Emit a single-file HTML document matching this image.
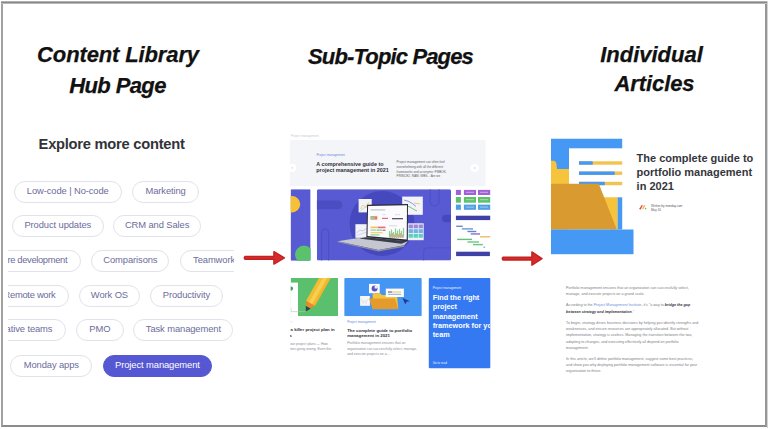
<!DOCTYPE html>
<html><head><meta charset="utf-8">
<style>
html,body{margin:0;padding:0;background:#fff;}
body{width:768px;height:429px;position:relative;overflow:hidden;font-family:"Liberation Sans",sans-serif;}
.a{position:absolute;}
.frame{position:absolute;left:1px;top:1px;width:762px;height:422px;border:2px solid #8c8c8c;border-left-color:#a2a2a2;border-right-color:#979797;border-top:none;height:424px;}
.ftop{position:absolute;left:1px;top:1px;width:766px;height:3px;background:linear-gradient(#b2b2b2 0,#b2b2b2 1px,#888 1px,#888 2px,#b8b8b8 2px);}
.h{position:absolute;font-weight:bold;font-style:italic;font-size:22px;line-height:20px;color:#111;-webkit-text-stroke:0.25px #111;white-space:nowrap;text-align:center;}
.clip{position:absolute;left:7.5px;top:169.6px;width:226.5px;height:220px;overflow:hidden;}
.p{position:absolute;height:20px;border:1px solid #e2e2ea;border-radius:12px;font-size:9.4px;line-height:17.6px;letter-spacing:-0.1px;color:#6c6c9c;text-align:center;white-space:nowrap;box-sizing:content-box;}
.p.f{background:#5558d2;border-color:#5558d2;color:#fff;}
</style></head><body>
<div class="frame"></div><div class="ftop"></div><div class="a" style="left:767px;top:1px;width:1px;height:427px;background:#d4d4d4"></div>

<!-- headings -->
<div class="h" style="left:18px;top:44.6px;width:200px;letter-spacing:-0.13px;">Content Library</div>
<div class="h" style="left:17.5px;top:75.5px;width:200px;letter-spacing:-0.6px;">Hub Page</div>
<div class="h" style="left:290.5px;top:46.8px;width:200px;letter-spacing:-0.85px;">Sub-Topic Pages</div>
<div class="h" style="left:551.5px;top:44.9px;width:200px;letter-spacing:0.0px;">Individual</div>
<div class="h" style="left:554.5px;top:74px;width:200px;letter-spacing:-0.1px;">Articles</div>

<!-- hub -->
<div class="a" style="left:38.6px;top:135.8px;font-weight:bold;font-size:14.7px;line-height:16px;letter-spacing:-0.25px;color:#323338;white-space:nowrap;">Explore more content</div>
<div class="clip">
 <div class="p" style="left:6.5px;top:11.3px;width:105.5px;">Low-code | No-code</div>
 <div class="p" style="left:124.4px;top:11.3px;width:65.4px;">Marketing</div>
 <div class="p" style="left:4.5px;top:45.6px;width:89.6px;">Product updates</div>
 <div class="p" style="left:105.6px;top:45.6px;width:86.1px;">CRM and Sales</div>
 <div class="p" style="left:-52px;top:80.3px;width:110.7px;text-align:right;padding-right:12.5px;letter-spacing:-0.35px;">Software development</div>
 <div class="p" style="left:83.9px;top:80.3px;width:76px;">Comparisons</div>
 <div class="p" style="left:172.6px;top:80.3px;width:64px;text-align:left;padding-left:12px;">Teamwork</div>
 <div class="p" style="left:-19px;top:115.3px;width:66px;text-align:right;padding-right:12.5px;letter-spacing:-0.3px;">Remote work</div>
 <div class="p" style="left:71.8px;top:115.3px;width:58.3px;">Work OS</div>
 <div class="p" style="left:142.7px;top:115.3px;width:70.4px;">Productivity</div>
 <div class="p" style="left:-30px;top:149.7px;width:86.2px;">Creative teams</div>
 <div class="p" style="left:68.6px;top:149.7px;width:45.5px;">PMO</div>
 <div class="p" style="left:125.9px;top:149.7px;width:98px;">Task management</div>
 <div class="p" style="left:2.8px;top:185.3px;width:80.1px;">Monday apps</div>
 <div class="p f" style="left:95.1px;top:185.3px;width:107.7px;">Project management</div>
</div>

<!-- arrows -->
<svg class="a" style="left:0;top:0" width="768" height="429">
 <g fill="#d72a2a" stroke="#c42222" stroke-width="1.4" stroke-linejoin="round">
  <path d="M245 256.4 H273.9 V251.6 L284.4 257.8 L273.9 264.1 V259.2 H245 Q243.6 257.8 245 256.4Z"/>
  <path d="M503 257.2 H531.9 V251.9 L542 258.6 L531.9 265.2 V260 H503 Q501.6 258.6 503 257.2Z"/>
 </g>
</svg>


<!-- ===== middle: sub-topic page mock ===== -->
<svg class="a" style="left:0;top:0" width="768" height="429">
 <defs>
  <clipPath id="cpL"><rect x="290.6" y="189.2" width="20" height="71.6" rx="1"/></clipPath>
  <clipPath id="cpB"><rect x="316.9" y="189.2" width="134.1" height="71.4" rx="1.5"/></clipPath>
  <clipPath id="cpG"><rect x="290.7" y="278" width="47.3" height="38.2"/></clipPath>
  <clipPath id="cpBl"><rect x="344.2" y="278" width="77.6" height="38.2" rx="1"/></clipPath>
 </defs>
 <!-- hero panel -->
 <rect x="289.9" y="140" width="195.7" height="46.1" fill="#f4f5f8"/>
 <circle cx="292.2" cy="167.8" r="4.1" fill="#fff"/><circle cx="292.2" cy="167.8" r="0.9" fill="#dcdde3"/>
 <circle cx="474.7" cy="168" r="4.1" fill="#fff"/>
 <circle cx="474.7" cy="168" r="0.9" fill="#dcdde3"/>
 <!-- left blue image -->
 <g clip-path="url(#cpL)">
  <rect x="290.6" y="189.2" width="20" height="71.6" fill="#585ad4"/>
  <circle cx="292" cy="204.2" r="8.2" fill="#f6c137"/>
  <circle cx="304" cy="254.5" r="9" fill="#5ac26d"/>
 </g>
 <!-- big laptop image -->
 <g clip-path="url(#cpB)">
  <rect x="316.9" y="189.2" width="134.1" height="71.4" fill="#585ad4"/>
  <rect x="312" y="200.5" width="30.5" height="8.8" rx="4.4" fill="#4b4dc2"/>
  <rect x="321.6" y="228.8" width="7" height="40" rx="3.5" fill="none" stroke="#4b4dc2" stroke-width="0.9"/>
  <circle cx="382" cy="223.5" r="32.5" fill="#4648bd"/>
  <rect x="430.2" y="180" width="8.8" height="26" rx="4.4" fill="none" stroke="#4b4dc2" stroke-width="0.9"/>
  <rect x="442" y="214.8" width="14" height="7.4" rx="3.7" fill="#4648bd"/>
  <rect x="423.7" y="247.9" width="40" height="16" rx="3" fill="none" stroke="#4b4dc2" stroke-width="0.7"/>
  <!-- floating cards -->
  <rect x="358.6" y="199" width="13.1" height="13.4" fill="#f3f3f7"/>
  <path d="M360.5 209 L363 205 L365.5 207 L369 202" stroke="#e6b24a" stroke-width="0.6" fill="none"/>
  <path d="M360.5 210.5 L364 208 L369 206" stroke="#8fcf9a" stroke-width="0.5" fill="none"/>
  <rect x="355.4" y="224.2" width="12.3" height="13.6" fill="#f3f3f7"/>
  <path d="M356.5 233 L360 230 L363 231 L367 228" stroke="#7aa6e6" stroke-width="0.5" fill="none"/>
  <path d="M356.5 235.5 L361 234 L367 232" stroke="#c9a6e6" stroke-width="0.5" fill="none"/>
  <rect x="402.2" y="196.6" width="20.6" height="18.2" fill="#f4f4f8"/>
  <path d="M404 200 L409 201.5 L413 204 L416 206.5" stroke="#7c8fdb" stroke-width="0.9" fill="none"/>
  <path d="M405 205.5 L410 207 L414 209.5 L417 211" stroke="#67c07a" stroke-width="0.9" fill="none"/>
  <path d="M414 203 L420 204" stroke="#f1b04b" stroke-width="0.7" fill="none"/>
  <rect x="407.7" y="223.3" width="16" height="16.9" fill="#eef0f8"/>
  <rect x="408.6" y="224.5" width="4.3" height="3.8" fill="#9b8ad6"/><rect x="413.6" y="224.5" width="4.3" height="3.8" fill="#9b8ad6"/><rect x="418.6" y="224.5" width="4.3" height="3.8" fill="#9b8ad6"/>
  <rect x="408.6" y="229.2" width="4.3" height="3.8" fill="#6fb3e8"/><rect x="413.6" y="229.2" width="4.3" height="3.8" fill="#6fb3e8"/><rect x="418.6" y="229.2" width="4.3" height="3.8" fill="#6fb3e8"/>
  <rect x="408.6" y="233.9" width="4.3" height="3.8" fill="#5fcfb8"/><rect x="413.6" y="233.9" width="4.3" height="3.8" fill="#5fcfb8"/><rect x="418.6" y="233.9" width="4.3" height="3.8" fill="#5fcfb8"/>
  <!-- laptop -->
  <path d="M337.4 241.2 L366.4 236.8 L407.6 241.2 L404.3 245.3 L378.6 250 Z" fill="#c4c6d0"/>
  <path d="M337.4 241.2 L378.6 250 L404.3 245.3 L404.3 246.7 L378.6 251.6 L337.8 242.3 Z" fill="#8d8f9c"/>
  <path d="M359 238.6 L366.4 237.2 L407.6 241.2 L401.5 243.8 Z" fill="#3c3d4a"/>
  <path d="M367.1 204.8 L408 204.1 L407.6 241.2 L366.4 237.2 Z" fill="#2a2b36"/>
  <path d="M368.1 205.9 L407 205.2 L406.7 239.6 L367.5 236.1 Z" fill="#fbfbfd"/>
  <rect x="370.5" y="209.4" width="14.8" height="1" fill="#b9bac6"/>
  <rect x="370.5" y="216.2" width="6.8" height="3.4" fill="#e87a62"/>
  <rect x="371" y="216.7" width="3.8" height="2.4" fill="#86d391"/>
  <rect x="382" y="217.8" width="6" height="1.2" fill="#e06b80"/>
  <rect x="392" y="218" width="11" height="1.3" fill="#55566a"/>
  <rect x="382.5" y="214.5" width="3" height="0.6" fill="#c9c9d4"/>
  <rect x="395" y="214.5" width="5" height="0.6" fill="#c9c9d4"/>
  <rect x="370.5" y="226.6" width="6.5" height="1.6" fill="#f2c14e"/><rect x="377.5" y="226.6" width="8" height="1.6" fill="#e66c7d"/>
  <rect x="370.5" y="229.4" width="6" height="1.4" fill="#9fd8a8"/><rect x="377" y="229.4" width="5" height="1.4" fill="#86d391"/><rect x="382.5" y="229.6" width="3" height="1.4" fill="#e66c7d"/>
  <rect x="370.5" y="232" width="12" height="1.3" fill="#f2d27a"/>
  <rect x="370.5" y="234.3" width="9" height="1.2" fill="#86d391"/>
  <rect x="389" y="225.5" width="8" height="0.7" fill="#c9c9d4"/>
  <path d="M389.5 237.5 V231 M391.5 237.5 V229.5 M393.5 237.5 V232 M395.5 237.5 V228.5 M397.5 237.5 V230.5 M399.5 237.5 V229 M401.5 237.5 V231 M403.5 237.5 V228" stroke="#86d391" stroke-width="1.2"/>
  <path d="M390.5 238 V233.5 M392.5 238 V233 M394.5 238 V234.5 M396.5 238 V233 M398.5 238 V234 M400.5 238 V233 M402.5 238 V234.5" stroke="#f08b72" stroke-width="0.8"/>
 </g>
 <!-- gantt image -->
 <rect x="455.9" y="189.9" width="5" height="5.1" fill="#a160d8"/><rect x="463.9" y="189.9" width="12.1" height="5.1" fill="#a160d8"/><rect x="478" y="189.9" width="12.2" height="5.1" fill="#a160d8"/>
 <rect x="455.9" y="197" width="5" height="5.7" fill="#5cc26c"/><rect x="463.9" y="197" width="12.1" height="5.7" fill="#5cc26c"/><rect x="478" y="197" width="12.2" height="5.7" fill="#5cc26c"/>
 <rect x="455.9" y="204.6" width="5" height="5.2" fill="#4f9fe6"/><rect x="463.9" y="204.6" width="12.1" height="5.2" fill="#4f9fe6"/><rect x="478" y="204.6" width="12.2" height="5.2" fill="#4f9fe6"/>
 <g fill="#ffffff" opacity="0.45">
  <rect x="466" y="191.8" width="8" height="1"/><rect x="480" y="191.8" width="8" height="1"/>
  <rect x="466" y="199.2" width="8" height="1"/><rect x="480" y="199.2" width="8" height="1"/>
  <rect x="466" y="206.6" width="8" height="1"/><rect x="480" y="206.6" width="8" height="1"/>
 </g>
 <rect x="455.9" y="215.7" width="34.3" height="4.4" fill="#3f41a6"/>
 <rect x="456.2" y="225.6" width="6.5" height="1.4" fill="#7088c8"/>
 <rect x="461.8" y="228.2" width="11.2" height="1.4" fill="#6a9ae0"/>
 <rect x="467.4" y="230.8" width="8.9" height="1.4" fill="#5f86d6"/>
 <rect x="470.7" y="233.2" width="9.3" height="1.5" fill="#9378d4"/>
 <rect x="480" y="236" width="10.3" height="1.5" fill="#f2c078"/>
 <rect x="457.1" y="238.7" width="14.9" height="1.4" fill="#67c07a"/>
 <rect x="467.4" y="241.2" width="11.6" height="1.6" fill="#7fcf8e"/>
 <rect x="473" y="243.9" width="9.8" height="1.4" fill="#6cc47e"/>
 <rect x="483.3" y="246.6" width="1.9" height="1.2" fill="#8fb8a0"/>
 <rect x="456.1" y="251.7" width="33.8" height="4.4" fill="#3f41a6"/>

 <!-- bottom card 1 green pencil -->
 <g clip-path="url(#cpG)">
  <rect x="290.7" y="278" width="47.3" height="38.2" fill="#5bc06e"/>
  <rect x="290.7" y="282.6" width="7.3" height="34" fill="#fff"/>
  <circle cx="291" cy="288.6" r="2.1" fill="#4e9a60"/>
  <path d="M291 307.5 V311.6 H306" stroke="#b9bccb" stroke-width="0.6" fill="none"/>
  <g transform="translate(305.8 311.6) rotate(-60.5)">
   <path d="M0 0 L5.2 -2.9 L5.2 2.9 Z" fill="#244845"/>
   <path d="M5.1 -2.9 L9.8 -5.1 L9.8 5.1 L5.1 2.9 Z" fill="#e58a2e"/>
   <rect x="9.7" y="-5.1" width="50" height="10.2" fill="#f4bd30"/>
   <rect x="9.7" y="-1.6" width="50" height="3.4" fill="#f8cf56"/>
   <rect x="9.7" y="3.6" width="50" height="1.5" fill="#eeb32c"/>
  </g>
 </g>
 <!-- bottom card 2 blue folder -->
 <g clip-path="url(#cpBl)">
  <rect x="344.2" y="278" width="77.6" height="38.2" fill="#4596f2"/>
  <rect x="360.1" y="296" width="9.8" height="9.8" fill="#f4f6fb"/>
  <path d="M361.5 299 L363 303.5 L364.5 300 L366 303.5 L367.5 299" stroke="#d9d2c0" stroke-width="0.5" fill="none"/>
  <rect x="369" y="283.9" width="10.7" height="9.3" fill="#fbfbfd"/>
  <circle cx="374.6" cy="288.6" r="3" fill="#5a4fc6"/>
  <path d="M374.6 288.6 V285.6 A3 3 0 0 1 377.6 288.6 Z" fill="#f0f0f8"/>
  <path d="M372.7 293.2 L380 293.2 L382 295 L397 295 L398.3 309 L372.7 309 Z" fill="#f6c33c"/>
  <rect x="385.8" y="288.6" width="18.1" height="8.4" fill="#fbfbfd"/>
  <rect x="388" y="291.5" width="13" height="1" fill="#f2c45a"/>
  <rect x="388" y="291.5" width="4" height="1" fill="#606b9a"/>
  <rect x="388" y="293.8" width="13" height="1" fill="#7fb4ea"/>
  <path d="M369 298.4 L395 298.4 L398.3 309.2 L372.7 309.2 Z" fill="#e49b2c"/>
  <path d="M402.5 297.9 L410 301.2 L406.5 301.8 L405.3 304.4 Z" fill="#1e3b8e"/>
 </g>
 <!-- bottom card 3 blue text card -->
 <rect x="428.8" y="278.1" width="61.5" height="90.2" rx="1" fill="#3579f2"/>
</svg>
<div class="a" style="left:291px;top:135.1px;font-size:3px;line-height:3px;color:#c9c9cf;white-space:nowrap;">Project management</div>
<div class="a" style="left:316.4px;top:154.3px;font-size:3.1px;line-height:3px;color:#6b88d8;white-space:nowrap;">Project management</div>
<div class="a" style="left:316.3px;top:160.6px;font-size:5.4px;line-height:6.75px;font-weight:bold;color:#2f3038;white-space:nowrap;">A comprehensive guide to<br>project management in 2021</div>
<div class="a" style="left:396.6px;top:160.4px;font-size:3.1px;line-height:4.62px;color:#5f6069;white-space:nowrap;">Project management can often feel<br>overwhelming with all the different<br>frameworks and acronyms: PMBOK,<br>PRINCE2, RAM, WBS... Are we</div>

<div class="a" style="left:290.7px;top:320.5px;font-size:3px;line-height:3px;color:#c0c0c8;white-space:nowrap;">t</div>
<div class="a" style="left:290.2px;top:327.2px;width:47.8px;height:12px;overflow:hidden;font-size:4.3px;line-height:5.6px;font-weight:bold;color:#2f3038;white-space:nowrap;"><div style="margin-left:-14.2px">Create a killer project plan in</div><div style="margin-left:-3.2px">ss</div></div>
<div class="a" style="left:290.2px;top:342.1px;width:47.8px;overflow:hidden;font-size:3.45px;line-height:5px;color:#8a8b94;white-space:nowrap;"><div>our project plans — How</div><div>ters going wrong. Even the</div></div>

<div class="a" style="left:347.2px;top:321.1px;font-size:3.1px;line-height:3px;color:#6b88d8;white-space:nowrap;">Project management</div>
<div class="a" style="left:347.2px;top:327.6px;font-size:4.35px;line-height:5.6px;font-weight:bold;color:#2f3038;white-space:nowrap;">The complete guide to portfolio<br>management in 2021</div>
<div class="a" style="left:347.2px;top:341.3px;font-size:3.45px;line-height:5.3px;color:#8a8b94;white-space:nowrap;">Portfolio management ensures that an<br>organization can successfully select, manage,<br>and execute projects on a...</div>

<div class="a" style="left:428.8px;top:278px;width:61.5px;height:90px;overflow:hidden;">
 <div class="a" style="left:3.9px;top:8.6px;font-size:3.1px;line-height:3px;color:#e8efff;white-space:nowrap;">Project management</div>
 <div class="a" style="left:3.9px;top:15.2px;font-size:7.3px;line-height:9.15px;font-weight:bold;color:#fff;white-space:nowrap;">Find the right<br>project<br>management<br>framework for your<br>team</div>
 <div class="a" style="left:3.9px;top:84px;font-size:3px;line-height:3px;color:#e8efff;white-space:nowrap;">Go to read</div>
</div>


<!-- ===== right: article mock ===== -->
<svg class="a" style="left:0;top:0" width="768" height="429">
 <rect x="551" y="138.8" width="82.5" height="115.4" fill="#fff"/>
 <path d="M551 138.8 H622.2 V148.6 H569 V169 H551 Z" fill="#4598f3"/>
 <rect x="569" y="148.6" width="53.2" height="48.7" fill="#fff"/>
 <rect x="579" y="161.3" width="43.2" height="3.4" fill="#f3c34f"/>
 <rect x="579" y="161.3" width="13.7" height="3.4" fill="#4598f3"/>
 <rect x="579" y="171.5" width="43.2" height="3.4" fill="#f3c34f"/>
 <rect x="579" y="171.5" width="35.7" height="3.4" fill="#4598f3"/>
 <rect x="579" y="181.8" width="43.2" height="3.4" fill="#f3c34f"/>
 <rect x="579" y="181.8" width="25.8" height="3.4" fill="#4598f3"/>
 <path d="M551 160.8 H553.5 Q556 161 556.5 164 L557 169 H569 V229.5 H551 Z" fill="#f6c33c"/>
 <path d="M600 197.3 H617.6 V229.5 H610 Z" fill="#f6c33c"/>
 <rect x="617.6" y="197.3" width="4.6" height="32.2" fill="#4598f3"/>
 <path d="M551 183.8 H598.8 L616.8 229.5 H551 Z" fill="#d99a30"/>
 <rect x="551" y="229.5" width="82.5" height="24.7" fill="#4598f3"/>
 <!-- monday logo -->
 <circle cx="640.3" cy="208.6" r="0.9" fill="#f04e5e"/>
 <path d="M640.3 208.6 L642 205.6" stroke="#e44e4e" stroke-width="1.3" stroke-linecap="round"/>
 <path d="M642.8 208.6 L644.5 205.6" stroke="#f7b731" stroke-width="1.3" stroke-linecap="round"/>
 <circle cx="645.6" cy="208.6" r="0.8" fill="#5bc26d"/>
</svg>
<div class="a" style="left:636.6px;top:150.6px;font-size:11px;line-height:14.2px;font-weight:bold;color:#35363c;white-space:nowrap;">The complete guide to<br>portfolio management<br>in 2021</div>
<div class="a" style="left:651.1px;top:204px;font-size:3px;line-height:4.2px;color:#55565e;white-space:nowrap;">Written by monday.com<br>May 16</div>
<div class="a" style="left:566.1px;top:284.8px;font-size:3.68px;line-height:6.22px;color:#7c7d85;white-space:nowrap;">
<div>Portfolio management ensures that an organization can successfully select,<br>manage, and execute projects on a grand scale.</div>
<div style="margin-top:5.1px">According to the <span style="color:#6b90d8">Project Management Institute</span>, it&rsquo;s &ldquo;a way to <b style="color:#2f3038;font-style:italic">bridge the gap</b><br><b style="color:#2f3038;font-style:italic">between strategy and implementation</b>.&rdquo;</div>
<div style="margin-top:5.1px">To begin, strategy drives business decisions by helping you identify strengths and<br>weaknesses, and ensure resources are appropriately allocated. But without<br>implementation, strategy is useless. Managing the transition between the two,<br>adapting to changes, and executing effectively all depend on portfolio<br>management.</div>
<div style="margin-top:5.1px">In this article, we&rsquo;ll define portfolio management, suggest some best practices,<br>and show you why deploying portfolio management software is essential for your<br>organization to thrive.</div>
</div>

</body></html>
